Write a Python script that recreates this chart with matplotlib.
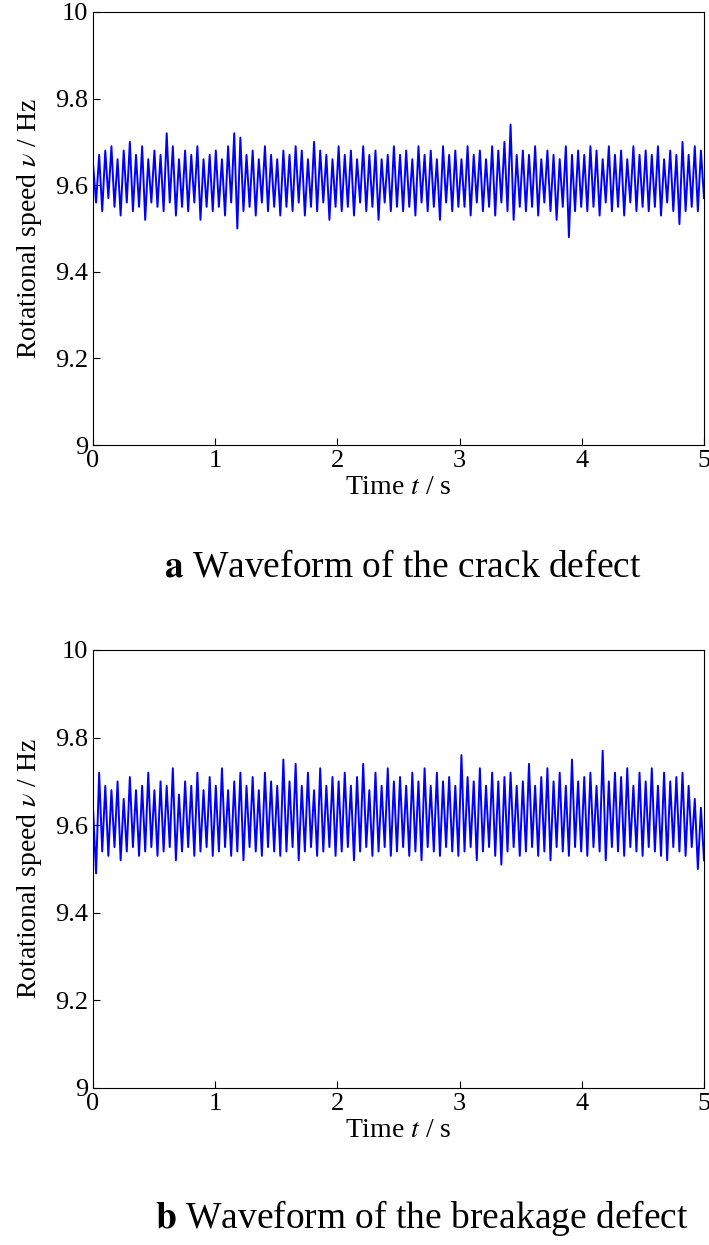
import numpy as np
import matplotlib
matplotlib.use("Agg")
import matplotlib.pyplot as plt

plt.rcParams["font.family"] = ["Liberation Serif", "DejaVu Serif"]
plt.rcParams["mathtext.fontset"] = "stix"

BASE = 9.6
DURATION = 5.0

# Hand-read deviations from 9.6 Hz, in hundredths of Hz (0.5 s per row)
crack_dev = [
    5, -4, 7, -6, 8, -3, 9, -5, 6, -7, 8, -4, 10, -6, 7, -5, 9, -8, 6, -4,
    8, -5, 7, -6, 12, -4, 9, -7, 6, -5, 8, -6, 7, -4, 9, -8, 6, -5, 7, -6,
    8, -5, 6, -7, 9, -4, 12, -10, 11, -6, 7, -5, 8, -7, 6, -4, 9, -6, 7, -5,
    6, -7, 8, -5, 7, -6, 9, -4, 8, -7, 6, -5, 10, -6, 8, -4, 7, -8, 6, -5,
    9, -6, 7, -5, 8, -7, 6, -4, 9, -6, 7, -5, 8, -8, 6, -4, 7, -6, 9, -5,
    7, -6, 8, -5, 6, -7, 9, -4, 7, -6, 8, -5, 6, -8, 9, -4, 7, -6, 8, -5,
    6, -5, 9, -7, 7, -4, 8, -6, 6, -5, 9, -7, 8, -4, 10, -6, 14, -8, 7, -5,
    8, -6, 7, -5, 9, -7, 6, -4, 8, -6, 7, -8, 6, -5, 9, -12, 7, -6, 8, -5,
    7, -6, 9, -5, 8, -7, 6, -4, 9, -6, 7, -5, 8, -7, 6, -4, 9, -6, 7, -5,
    8, -6, 7, -5, 9, -7, 6, -4, 8, -6, 7, -9, 10, -6, 7, -5, 9, -6, 8, -3,
]

breakage_dev = [
    4, -11, 12, -6, 9, -7, 8, -5, 10, -8, 6, -6, 11, -5, 8, -7, 9, -6, 12, -5,
    8, -7, 10, -6, 9, -5, 13, -8, 7, -6, 10, -5, 9, -7, 12, -6, 8, -5, 11, -7,
    9, -6, 13, -5, 8, -7, 10, -6, 12, -8, 9, -5, 11, -6, 8, -7, 12, -5, 10, -6,
    9, -7, 15, -6, 10, -5, 14, -8, 9, -6, 12, -5, 8, -7, 13, -6, 9, -5, 11, -7,
    10, -6, 12, -5, 9, -8, 11, -6, 14, -5, 8, -7, 12, -6, 9, -5, 13, -7, 10, -6,
    11, -5, 9, -7, 12, -6, 10, -8, 13, -5, 9, -6, 12, -7, 10, -5, 11, -6, 9, -7,
    16, -6, 11, -5, 10, -8, 13, -6, 9, -5, 12, -7, 10, -9, 11, -6, 12, -5, 9, -7,
    10, -6, 14, -5, 9, -7, 11, -6, 13, -8, 10, -5, 12, -6, 9, -7, 15, -5, 10, -6,
    11, -7, 12, -5, 9, -6, 17, -8, 10, -5, 12, -6, 11, -7, 13, -5, 9, -6, 12, -7,
    10, -5, 13, -6, 9, -7, 12, -8, 10, -5, 11, -6, 12, -7, 9, -5, 6, -10, 4, -8,
]

captions = [r"$\mathbf{a}$ Waveform of the crack defect",
            r"$\mathbf{b}$ Waveform of the breakage defect"]
series = [crack_dev, breakage_dev]

W, H = 709, 1245
fig = plt.figure(figsize=(W / 100, H / 100), dpi=100)

# axes boxes in pixels: left, top, right, bottom
boxes = [(93, 12, 704, 445), (93, 650, 704, 1088)]
caption_xy = [(403, 567), (422, 1218)]

for dev, box, cap, (cx, cy) in zip(series, boxes, captions, caption_xy):
    l, t, r, b = box
    ax = fig.add_axes([l / W, 1 - b / H, (r - l) / W, (b - t) / H])
    y = BASE + np.array(dev) / 100.0
    x = np.linspace(0, DURATION, len(y))
    ax.plot(x, y, color="blue", lw=1.4)
    ax.set_xlim(0, 5)
    ax.set_ylim(9, 10)
    ax.set_xticks([0, 1, 2, 3, 4, 5])
    ax.set_yticks([9, 9.2, 9.4, 9.6, 9.8, 10])
    ax.set_yticklabels(["9", "9.2", "9.4", "9.6", "9.8", "10"])
    ax.tick_params(direction="in", labelsize=19, length=5)
    ax.set_xlabel(r"Time $t$ / s", fontsize=20, labelpad=2)
    ax.set_ylabel(r"Rotational speed $\nu$ / Hz", fontsize=20, labelpad=8)
    fig.text(cx / W, 1 - cy / H, cap, fontsize=27, ha="center", va="center")

fig.savefig("out.png", dpi=100)
